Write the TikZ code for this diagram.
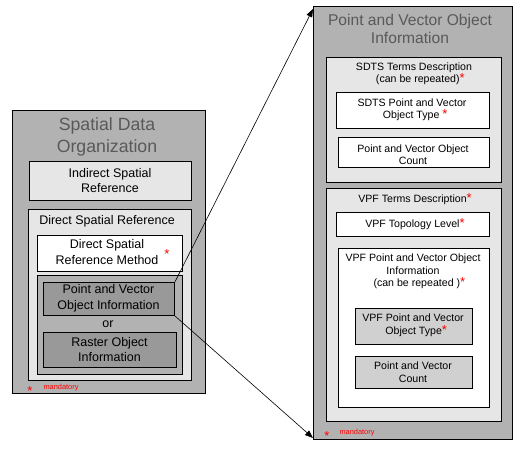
\documentclass[tikz,border=0pt]{standalone}
\usepackage{fontspec}
\setmainfont{Liberation Sans}
\usetikzlibrary{arrows.meta}
\definecolor{outergray}{HTML}{B2B2B2}
\definecolor{lightgray}{HTML}{E6E6E6}
\definecolor{darkgray}{HTML}{999999}
\definecolor{midgray}{HTML}{D0D0D0}
\definecolor{titlegray}{HTML}{595959}
\definecolor{starred}{HTML}{FF0000}
\newcommand{\mstar}{{\fontsize{13}{12}\selectfont\textcolor{starred}{*}}}
\tikzset{
  boxshape/.style={draw=black, line width=0.9pt, rectangle, anchor=north west, inner sep=0pt},
  bigtitle/.style={font=\fontsize{17.7}{22}\selectfont, text=titlegray, align=center},
  midtitle/.style={font=\fontsize{15.6}{18}\selectfont, text=titlegray, align=center},
  ltext/.style={font=\fontsize{12.5}{15.5}\selectfont, align=center},
  rtext/.style={font=\fontsize{10.6}{12.5}\selectfont, align=center},
  mandtext/.style={font=\fontsize{7.4}{8}\selectfont, text=starred, anchor=west},
  startext/.style={font=\fontsize{13}{12}\selectfont, text=starred},
  link/.style={draw=black, line width=0.6pt, -{Triangle[length=8pt,width=6pt]}}
}
\newcommand{\boxat}[6]{\node[boxshape, fill=#2, minimum width=#5-#3, minimum height=#6-#4] (#1) at (#3,#4) {};}
\begin{document}
\begin{tikzpicture}[x=1pt,y=-1pt]
\useasboundingbox (0,0) rectangle (517,450);
% left panel
\boxat{lout}{outergray}{12}{110}{205}{393}
\node[bigtitle] (ltitle) at (107,137) {Spatial Data\\Organization};
\boxat{indirect}{lightgray}{29}{161}{191}{200}
\node[ltext] (indirecttxt) at (110,180.5) {Indirect Spatial\\Reference};
\boxat{direct}{lightgray}{28}{209}{191}{380}
\node[ltext] (directtxt) at (107,221) {Direct Spatial Reference};
\boxat{dsrm}{white}{37}{235}{182}{271}
\node[ltext] (dsrmtxt) at (107,252) {Direct Spatial\\Reference Method};
\node[startext] (dsrmstar) at (167,254) {*};
\boxat{group}{outergray}{37}{275}{182}{374}
\boxat{pv}{darkgray}{43}{282}{174}{315}
\node[ltext] (pvtxt) at (108.5,298.5) {Point and Vector\\Object Information};
\node[ltext] (ortxt) at (108,324) {or};
\boxat{raster}{darkgray}{43}{332}{176}{367}
\node[ltext] (rastertxt) at (109.5,349.5) {Raster Object\\Information};
\node[startext] (lmstar) at (30,391) {*};
\node[mandtext] (lmand) at (40,387.5) {mandatory};
% right panel
\boxat{rout}{outergray}{313}{6}{512}{439}
\node[midtitle] (rtitle) at (410,29) {Point and Vector Object\\Information};
\boxat{sdts}{lightgray}{326}{57}{501}{182}
\node[rtext] (sdtstxt) at (414,74) {SDTS Terms Description\\\hspace*{1.2em}(can be repeated)\mstar};
\boxat{sdtstype}{white}{336}{92}{489}{128}
\node[rtext] (sdtstypetxt) at (412,110) {SDTS Point and Vector\\\hspace*{0.6em}Object Type \mstar};
\boxat{sdtscount}{white}{338}{137}{489}{167}
\node[rtext] (sdtscounttxt) at (413,154.5) {Point and Vector Object\\Count};
\boxat{vpf}{lightgray}{326}{188}{501}{421}
\node[rtext] (vpftxt) at (415,199) {VPF Terms Description\mstar};
\boxat{topo}{white}{336}{212}{489}{236}
\node[rtext] (topotxt) at (415,224) {VPF Topology Level\mstar};
\boxat{vpfinfo}{white}{338}{248}{489}{407}
\node[rtext] (vpfinfotxt) at (413,271.5) {VPF Point and Vector Object\\Information\\\hspace*{1.2em}(can be repeated )\mstar};
\boxat{vpftype}{midgray}{355}{308}{472}{344}
\node[rtext] (vpftypetxt) at (413,325.5) {VPF Point and Vector\\\hspace*{0.6em}Object Type\mstar};
\boxat{vpfcount}{midgray}{355}{356}{472}{388}
\node[rtext] (vpfcounttxt) at (413,372) {Point and Vector\\Count};
\node[startext] (rmstar) at (327,436) {*};
\node[mandtext] (rmand) at (336,432.5) {mandatory};
% connectors
\coordinate (tgt1) at (313,9);
\coordinate (tgt2) at (313,438);
\draw[link] (pv.north east) -- (tgt1);
\draw[link] (pv.south east) -- (tgt2);
\end{tikzpicture}
\end{document}
